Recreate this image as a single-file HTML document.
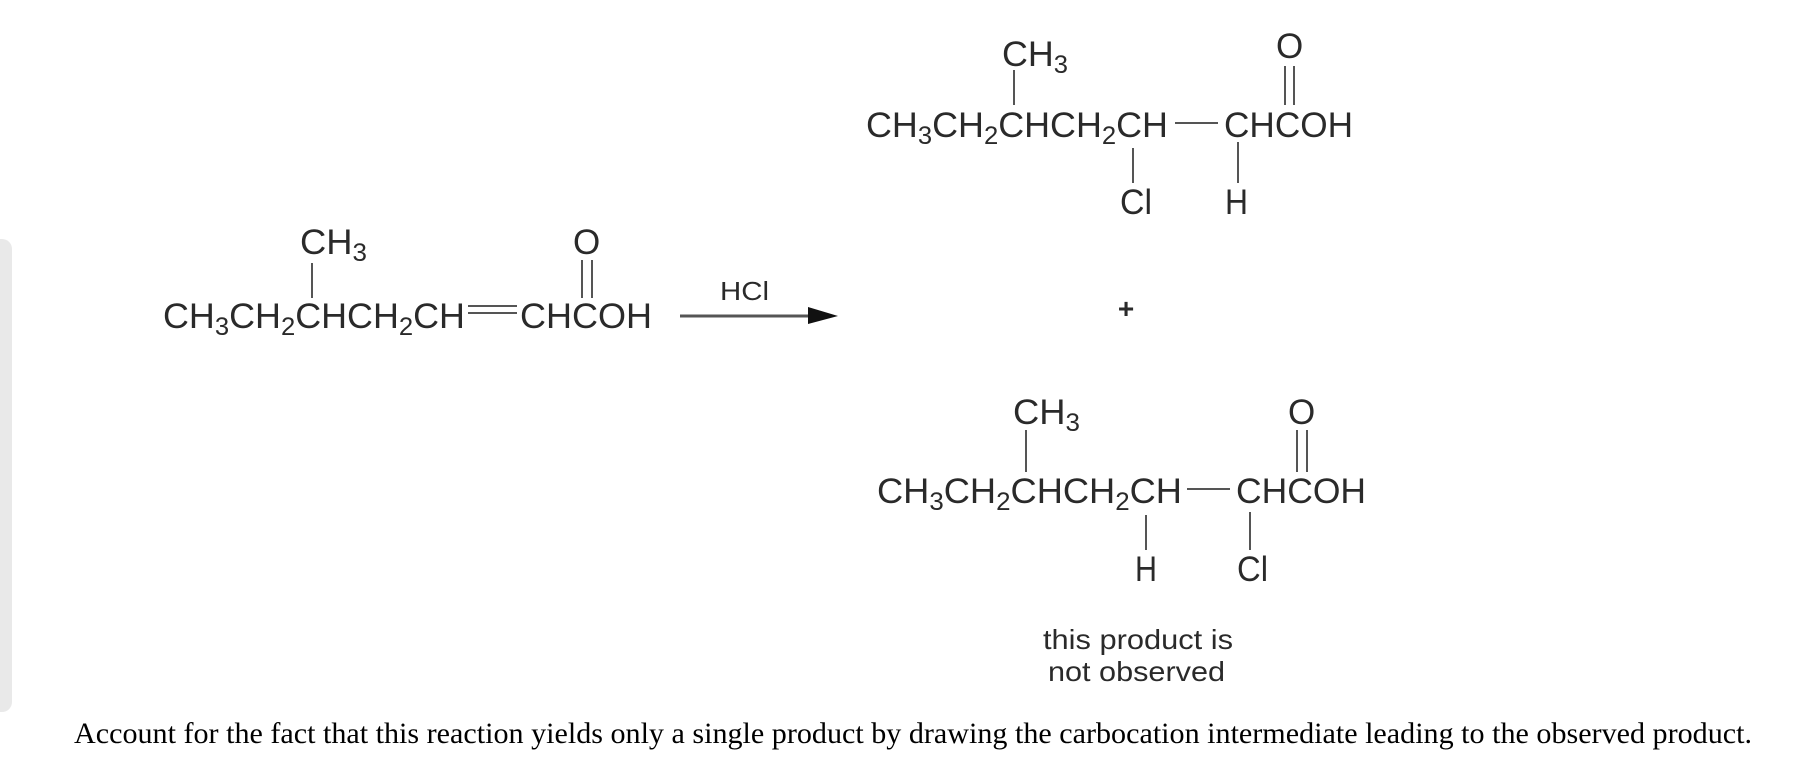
<!DOCTYPE html>
<html><head><meta charset="utf-8"><style>
html,body{margin:0;padding:0;background:#fff;width:1816px;height:770px;overflow:hidden}
svg{display:block}
.c{font-family:"Liberation Sans",Arial,sans-serif;font-size:35px;fill:#2a2a2a}
.s{font-size:25px}
</style></head><body>
<svg width="1816" height="770" viewBox="0 0 1816 770" xmlns="http://www.w3.org/2000/svg">
<rect x="-12" y="239" width="24" height="473" rx="10" fill="#e9e9e9"/>
<g stroke="#555" stroke-width="2" fill="none">
<line x1="312" y1="263" x2="312" y2="298"/>
<line x1="582" y1="260" x2="582" y2="298"/>
<line x1="592" y1="260" x2="592" y2="298"/>
<line x1="468" y1="306" x2="517" y2="306"/>
<line x1="468" y1="313" x2="517" y2="313"/>
<line x1="680" y1="316" x2="812" y2="316" stroke-width="3"/>
<line x1="1014" y1="70" x2="1014" y2="105"/>
<line x1="1285" y1="66" x2="1285" y2="105"/>
<line x1="1294" y1="66" x2="1294" y2="105"/>
<line x1="1175" y1="123" x2="1218" y2="123"/>
<line x1="1133" y1="148" x2="1133" y2="183"/>
<line x1="1238" y1="142" x2="1238" y2="183"/>
<line x1="1026" y1="430" x2="1026" y2="472"/>
<line x1="1297" y1="430" x2="1297" y2="472"/>
<line x1="1307" y1="430" x2="1307" y2="472"/>
<line x1="1187" y1="489" x2="1230" y2="489"/>
<line x1="1146" y1="515" x2="1146" y2="550"/>
<line x1="1250" y1="512" x2="1250" y2="550"/>
</g>
<polygon points="808,307 838,316 808,324" fill="#111"/>

<text class="c" x="300" y="254" textLength="67" lengthAdjust="spacingAndGlyphs">CH<tspan class="s" dy="7">3</tspan></text>
<text class="c" x="573" y="254">O</text>
<text class="c" x="163" y="328" textLength="302" lengthAdjust="spacingAndGlyphs">CH<tspan class="s" dy="7">3</tspan><tspan dy="-7">CH</tspan><tspan class="s" dy="7">2</tspan><tspan dy="-7">CHCH</tspan><tspan class="s" dy="7">2</tspan><tspan dy="-7">CH</tspan></text>
<text class="c" x="520" y="328" textLength="132" lengthAdjust="spacingAndGlyphs">CHCOH</text>
<text class="c" x="720" y="300" style="font-size:26px" textLength="49" lengthAdjust="spacingAndGlyphs">HCl</text>

<text class="c" x="1002" y="66" textLength="66" lengthAdjust="spacingAndGlyphs">CH<tspan class="s" dy="7">3</tspan></text>
<text class="c" x="1276" y="58">O</text>
<text class="c" x="866" y="137" textLength="302" lengthAdjust="spacingAndGlyphs">CH<tspan class="s" dy="7">3</tspan><tspan dy="-7">CH</tspan><tspan class="s" dy="7">2</tspan><tspan dy="-7">CHCH</tspan><tspan class="s" dy="7">2</tspan><tspan dy="-7">CH</tspan></text>
<text class="c" x="1224" y="137" textLength="129" lengthAdjust="spacingAndGlyphs">CHCOH</text>
<text class="c" x="1120" y="214" textLength="32" lengthAdjust="spacingAndGlyphs">Cl</text>
<text class="c" x="1225" y="214" textLength="23" lengthAdjust="spacingAndGlyphs">H</text>
<text class="c" x="1126" y="318" style="font-size:28px;font-weight:bold" text-anchor="middle">+</text>

<text class="c" x="1013" y="424" textLength="67" lengthAdjust="spacingAndGlyphs">CH<tspan class="s" dy="7">3</tspan></text>
<text class="c" x="1288" y="424">O</text>
<text class="c" x="877" y="503" textLength="305" lengthAdjust="spacingAndGlyphs">CH<tspan class="s" dy="7">3</tspan><tspan dy="-7">CH</tspan><tspan class="s" dy="7">2</tspan><tspan dy="-7">CHCH</tspan><tspan class="s" dy="7">2</tspan><tspan dy="-7">CH</tspan></text>
<text class="c" x="1236" y="503" textLength="130" lengthAdjust="spacingAndGlyphs">CHCOH</text>
<text class="c" x="1135" y="581" textLength="22" lengthAdjust="spacingAndGlyphs">H</text>
<text class="c" x="1237" y="581" textLength="31" lengthAdjust="spacingAndGlyphs">Cl</text>
<text class="c" x="1043" y="649" style="font-size:28px" textLength="190" lengthAdjust="spacingAndGlyphs">this product is</text>
<text class="c" x="1048" y="681" style="font-size:28px" textLength="177" lengthAdjust="spacingAndGlyphs">not observed</text>

<text x="74" y="743" style="font-family:'Liberation Serif','Times New Roman',serif;font-size:30px;fill:#000" textLength="1678" lengthAdjust="spacingAndGlyphs">Account for the fact that this reaction yields only a single product by drawing the carbocation intermediate leading to the observed product.</text>
</svg>
</body></html>
